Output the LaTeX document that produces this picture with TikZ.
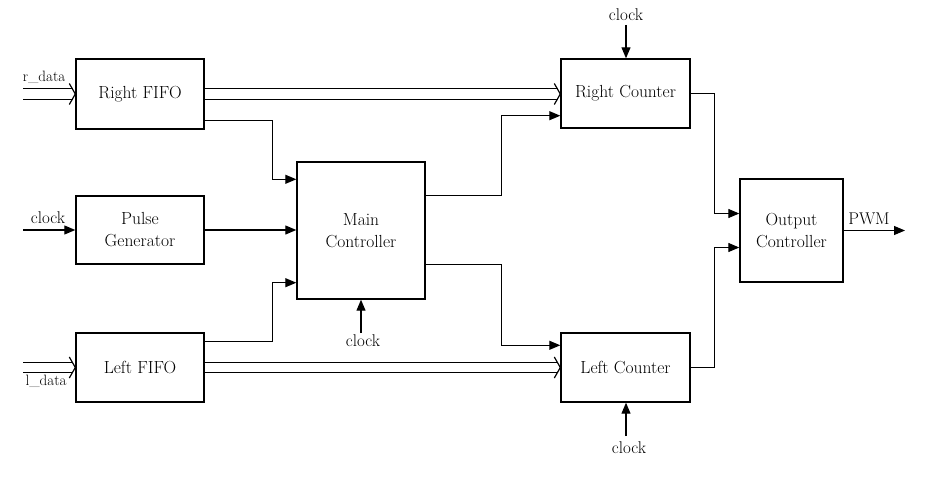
\documentclass[tikz,border=0pt]{standalone}
\usepackage{fontspec}
\setmainfont{Latin Modern Roman}
\usetikzlibrary{arrows.meta}
\begin{document}
\begin{tikzpicture}[x=1pt,y=-1pt,
 box/.style={draw, line width=1.4pt, inner sep=0pt, align=center, font=\fontsize{17.5}{22}\selectfont},
 conn/.style={line width=1.1pt, -{Triangle[length=11pt,width=9pt]}},
 bus/.style={double, double distance=9.5pt, line width=1pt, shorten >=2.5pt},
 chev/.style={line width=1.2pt, line join=miter},
 lbl/.style={font=\fontsize{17}{18}\selectfont, inner sep=0pt},
 slbl/.style={font=\fontsize{15}{18}\selectfont, inner sep=0pt}]
\useasboundingbox[fill=white] (0,0) rectangle (934,484);
% blocks
\node[box, minimum width=128pt, minimum height=70pt] (rf) at (140,94) {Right FIFO};
\node[box, minimum width=128pt, minimum height=68pt] (pg) at (140,230) {Pulse\\Generator};
\node[box, minimum width=128pt, minimum height=69pt] (lf) at (140,367.5) {Left FIFO};
\node[box, minimum width=128pt, minimum height=137pt] (mc) at (361,230.5) {Main\\Controller};
\node[box, minimum width=129pt, minimum height=69pt] (rc) at (625.5,93.5) {Right Counter};
\node[box, minimum width=129pt, minimum height=69pt] (lc) at (625.5,367.5) {Left Counter};
\node[box, minimum width=103pt, minimum height=103pt] (oc) at (791.5,230.5) {Output\\Controller};
% free ends
\coordinate (rin) at (23,94);
\coordinate (lin) at (23,367.5);
\coordinate (ck0) at (23,230);
\coordinate (ck1) at (626,25);
\coordinate (ck2) at (361,333);
\coordinate (ck3) at (626,436);
\coordinate (pwm) at (905,230.5);
\coordinate (rct) at (rf.east -| rc.west);
\coordinate (lct) at (lf.east -| lc.west);
% labels
\node[slbl] (lr) at (44,77) {r\_data};
\node[slbl] (ll) at (46,381) {l\_data};
\node[lbl] (lc0) at (48,218) {clock};
\node[lbl] (lc1) at (626,15) {clock};
\node[lbl] (lc2) at (363,341) {clock};
\node[lbl] (lc3) at (629,448) {clock};
\node[lbl] (lpwm) at (869,219) {PWM};
% buses
\draw[bus] (rin) -- (rf.west);
\draw[bus] (lin) -- (lf.west);
\draw[bus] (rf.east) -- (rct);
\draw[bus] (lf.east) -- (lct);
\foreach \t in {rf.west, lf.west, rct, lct}
  \draw[chev] ([xshift=-6pt,yshift=10.5pt]\t) -- (\t) -- ([xshift=-6pt,yshift=-10.5pt]\t);
% connectors
\draw[conn] (ck0) -- (pg.west);
\draw[conn] (pg.east) -- (pg.east -| mc.west);
\draw[conn] ([yshift=9pt]rf.south east) -- ++(68,0) |- ([yshift=-18pt]mc.north west);
\draw[conn] ([yshift=-9pt]lf.north east) -- ++(68,0) |- ([yshift=17pt]mc.south west);
\draw[conn] ([yshift=-34pt]mc.north east) -- ++(76,0) |- ([yshift=13pt]rc.south west);
\draw[conn] ([yshift=35pt]mc.south east) -- ++(76,0) |- ([yshift=-13pt]lc.north west);
\draw[conn] (rc.east) -- ++(24,0) |- ([yshift=17pt]oc.west);
\draw[conn] (lc.east) -- ++(24,0) |- ([yshift=-17pt]oc.west);
\draw[conn] (oc.east) -- (pwm);
\draw[conn] (ck1) -- (ck1 |- rc.north);
\draw[conn] (ck2) -- (ck2 |- mc.south);
\draw[conn] (ck3) -- (ck3 |- lc.south);
\end{tikzpicture}
\end{document}
